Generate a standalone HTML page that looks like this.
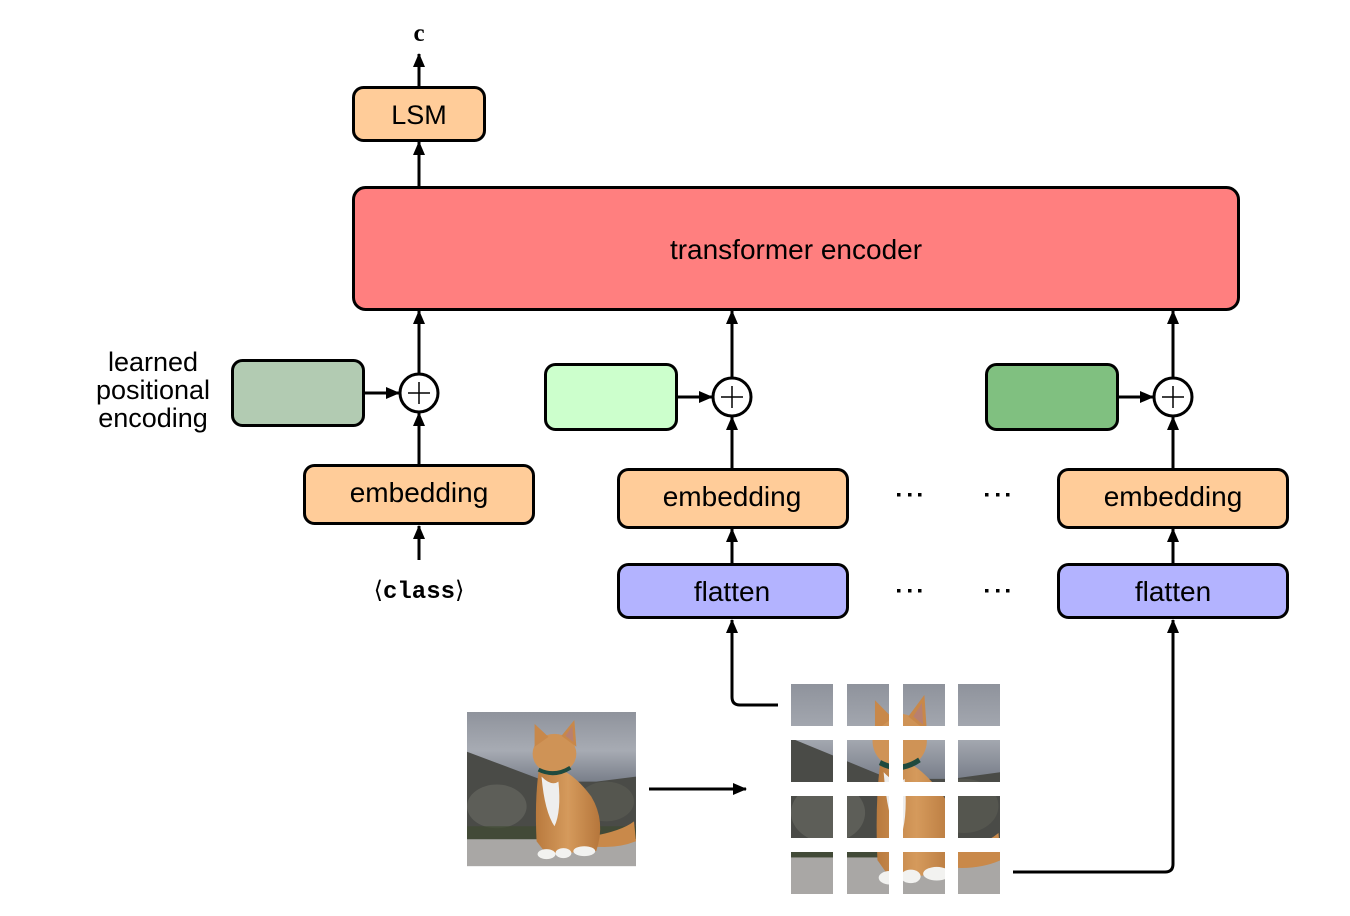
<!DOCTYPE html>
<html><head><meta charset="utf-8">
<style>
html,body{margin:0;padding:0;background:#fff;}
svg{display:block;}
text{font-family:"Liberation Sans",sans-serif;fill:#000;}
</style></head>
<body>
<svg width="1350" height="916" viewBox="0 0 1350 916" xmlns="http://www.w3.org/2000/svg">
<defs>
  <marker id="ah" markerWidth="14" markerHeight="12" refX="13" refY="6" orient="auto" markerUnits="userSpaceOnUse">
    <path d="M0,0 L14,6 L0,12 z" fill="#000"/>
  </marker>
  <linearGradient id="sky" x1="0" y1="0" x2="0" y2="1">
    <stop offset="0" stop-color="#8f939c"/>
    <stop offset="0.25" stop-color="#a7abb3"/>
    <stop offset="0.5" stop-color="#6e7480"/>
    <stop offset="1" stop-color="#5a5d60"/>
  </linearGradient>
  <linearGradient id="fur" x1="0" y1="0" x2="1" y2="0">
    <stop offset="0" stop-color="#b97a3e"/>
    <stop offset="0.5" stop-color="#d59a5c"/>
    <stop offset="1" stop-color="#b5763b"/>
  </linearGradient>
  <g id="cat">
    <rect x="0" y="0" width="170" height="155" fill="url(#sky)"/>
    <path d="M0,40 L40,55 L80,70 L130,70 L170,65 L170,135 L0,135 z" fill="#4a4b47"/>
    <ellipse cx="30" cy="95" rx="30" ry="22" fill="#5d5e58"/>
    <ellipse cx="140" cy="90" rx="28" ry="20" fill="#55564f"/>
    <path d="M0,115 L170,115 L170,135 L0,135 z" fill="#3f4a30" opacity="0.7"/>
    <rect x="0" y="128" width="170" height="27" fill="#a9a7a5"/>
    <path d="M125,125 Q155,120 168,110 L170,130 Q150,138 125,135 z" fill="#c9894a"/>
    <path d="M72,60 Q68,90 70,130 L80,143 L130,140 Q140,110 125,85 Q110,65 95,58 z" fill="url(#fur)"/>
    <path d="M75,65 Q85,75 92,70 Q95,100 88,115 Q78,100 75,65 z" fill="#eee"/>
    <ellipse cx="88" cy="42" rx="22" ry="20" fill="#cf9356"/>
    <path d="M68,35 L68,12 L82,25 z" fill="#c8884a"/>
    <path d="M95,24 L108,8 L110,35 z" fill="#c8884a"/>
    <path d="M99,24 L106,14 L107,30 z" fill="#b88070"/>
    <path d="M72,58 Q88,66 104,56" stroke="#1f4a3e" stroke-width="4" fill="none"/>
    <ellipse cx="80" cy="143" rx="9" ry="5" fill="#f2f2f0"/>
    <ellipse cx="97" cy="142" rx="8" ry="5" fill="#f2f2f0"/>
    <ellipse cx="118" cy="140" rx="11" ry="5" fill="#f2f2f0"/>
  </g>
  <clipPath id="patches">
    <rect x="791" y="684" width="42" height="42"/><rect x="847" y="684" width="42" height="42"/><rect x="903" y="684" width="42" height="42"/><rect x="958" y="684" width="42" height="42"/>
    <rect x="791" y="740" width="42" height="42"/><rect x="847" y="740" width="42" height="42"/><rect x="903" y="740" width="42" height="42"/><rect x="958" y="740" width="42" height="42"/>
    <rect x="791" y="796" width="42" height="42"/><rect x="847" y="796" width="42" height="42"/><rect x="903" y="796" width="42" height="42"/><rect x="958" y="796" width="42" height="42"/>
    <rect x="791" y="852" width="42" height="42"/><rect x="847" y="852" width="42" height="42"/><rect x="903" y="852" width="42" height="42"/><rect x="958" y="852" width="42" height="42"/>
  </clipPath>
</defs>

<g stroke="#000" stroke-width="3" fill="none">
  <line x1="419" y1="87" x2="419" y2="54" marker-end="url(#ah)"/>
  <line x1="419" y1="187" x2="419" y2="142" marker-end="url(#ah)"/>
  <line x1="419" y1="374" x2="419" y2="311" marker-end="url(#ah)"/>
  <line x1="419" y1="465" x2="419" y2="413" marker-end="url(#ah)"/>
  <line x1="419" y1="560" x2="419" y2="526" marker-end="url(#ah)"/>
  <line x1="364" y1="393" x2="399" y2="393" marker-end="url(#ah)"/>
  <line x1="732" y1="378" x2="732" y2="311" marker-end="url(#ah)"/>
  <line x1="732" y1="469" x2="732" y2="417" marker-end="url(#ah)"/>
  <line x1="732" y1="564" x2="732" y2="529" marker-end="url(#ah)"/>
  <line x1="677" y1="397" x2="712" y2="397" marker-end="url(#ah)"/>
  <path d="M778,705 L740,705 Q732,705 732,697 L732,620" marker-end="url(#ah)"/>
  <line x1="1173" y1="378" x2="1173" y2="311" marker-end="url(#ah)"/>
  <line x1="1173" y1="469" x2="1173" y2="417" marker-end="url(#ah)"/>
  <line x1="1173" y1="564" x2="1173" y2="529" marker-end="url(#ah)"/>
  <line x1="1118" y1="397" x2="1153" y2="397" marker-end="url(#ah)"/>
  <path d="M1013,872 L1165,872 Q1173,872 1173,864 L1173,620" marker-end="url(#ah)"/>
  <line x1="649" y1="789" x2="746" y2="789" marker-end="url(#ah)"/>
</g>

<g stroke="#000" stroke-width="3">
  <rect x="353.5" y="87.5" width="131" height="53" rx="10" fill="#ffcc99"/>
  <rect x="353.5" y="187.5" width="885" height="122" rx="12" fill="#ff7f7f"/>
  <rect x="232.5" y="360.5" width="131" height="65" rx="10" fill="#b2cbb2"/>
  <rect x="545.5" y="364.5" width="131" height="65" rx="10" fill="#ccffcc"/>
  <rect x="986.5" y="364.5" width="131" height="65" rx="10" fill="#80c080"/>
  <rect x="304.5" y="465.5" width="229" height="58" rx="10" fill="#ffcc99"/>
  <rect x="618.5" y="469.5" width="229" height="58" rx="10" fill="#ffcc99"/>
  <rect x="1058.5" y="469.5" width="229" height="58" rx="10" fill="#ffcc99"/>
  <rect x="618.5" y="564.5" width="229" height="53" rx="10" fill="#b3b3ff"/>
  <rect x="1058.5" y="564.5" width="229" height="53" rx="10" fill="#b3b3ff"/>
  <circle cx="419" cy="393" r="19" fill="#fff"/>
  <circle cx="732" cy="397" r="19" fill="#fff"/>
  <circle cx="1173" cy="397" r="19" fill="#fff"/>
</g>
<g stroke="#000" stroke-width="1.5">
  <line x1="408" y1="393" x2="430" y2="393"/><line x1="419" y1="382" x2="419" y2="404"/>
  <line x1="721" y1="397" x2="743" y2="397"/><line x1="732" y1="386" x2="732" y2="408"/>
  <line x1="1162" y1="397" x2="1184" y2="397"/><line x1="1173" y1="386" x2="1173" y2="408"/>
</g>

<g fill="#000">
  <rect x="897" y="493" width="3.5" height="3.5"/><rect x="908" y="493" width="3.5" height="3.5"/><rect x="918" y="493" width="3.5" height="3.5"/>
  <rect x="985" y="493" width="3.5" height="3.5"/><rect x="996" y="493" width="3.5" height="3.5"/><rect x="1006" y="493" width="3.5" height="3.5"/>
  <rect x="897" y="589" width="3.5" height="3.5"/><rect x="908" y="589" width="3.5" height="3.5"/><rect x="918" y="589" width="3.5" height="3.5"/>
  <rect x="985" y="589" width="3.5" height="3.5"/><rect x="996" y="589" width="3.5" height="3.5"/><rect x="1006" y="589" width="3.5" height="3.5"/>
</g>

<text x="419" y="41" text-anchor="middle" style="font-family:'Liberation Serif',serif;font-weight:bold;font-size:25px;">c</text>
<text x="419" y="124" text-anchor="middle" font-size="27">LSM</text>
<text x="796" y="259" text-anchor="middle" font-size="28">transformer encoder</text>
<text x="419" y="502" text-anchor="middle" font-size="28">embedding</text>
<text x="732" y="506" text-anchor="middle" font-size="28">embedding</text>
<text x="1173" y="506" text-anchor="middle" font-size="28">embedding</text>
<text x="732" y="601" text-anchor="middle" font-size="28">flatten</text>
<text x="1173" y="601" text-anchor="middle" font-size="28">flatten</text>
<text x="153" y="371" text-anchor="middle" font-size="27">learned</text>
<text x="153" y="399" text-anchor="middle" font-size="27">positional</text>
<text x="153" y="427" text-anchor="middle" font-size="27">encoding</text>
<text x="419" y="598" text-anchor="middle" font-size="24"><tspan style="font-family:'DejaVu Serif',serif;">⟨</tspan><tspan style="font-family:'Liberation Mono',monospace;font-weight:bold;">class</tspan><tspan style="font-family:'DejaVu Serif',serif;">⟩</tspan></text>

<use href="#cat" transform="translate(467,712) scale(0.994,0.994)"/>
<g clip-path="url(#patches)">
  <use href="#cat" transform="translate(791,684) scale(1.235,1.355)"/>
</g>
</svg>
</body></html>
